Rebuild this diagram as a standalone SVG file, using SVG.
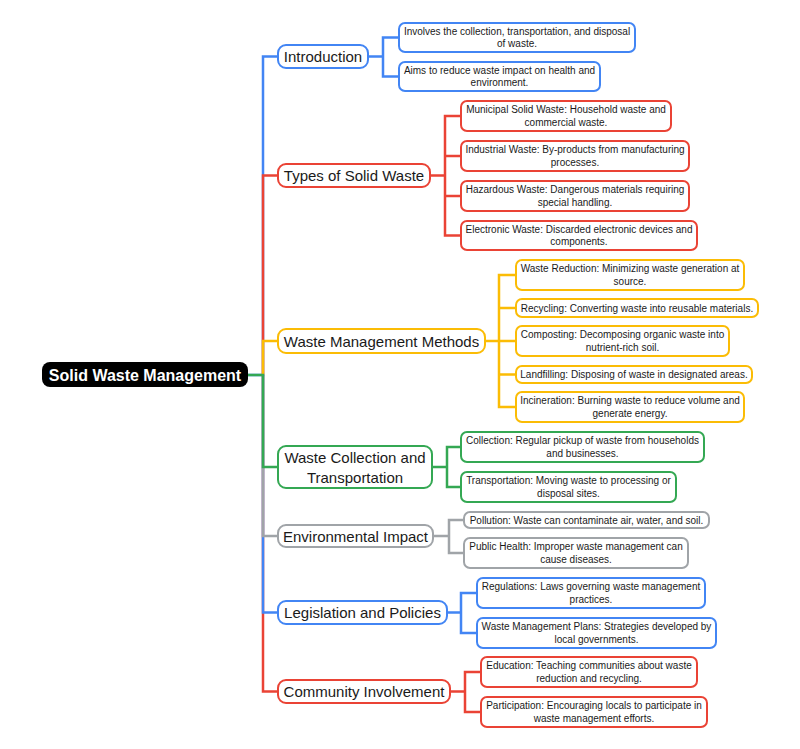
<svg xmlns="http://www.w3.org/2000/svg" width="800" height="749" viewBox="0 0 800 749">
<style>
text{font-family:"Liberation Sans",Arial,sans-serif;fill:#1a1a1a;text-anchor:middle;dominant-baseline:central}
.root text{fill:#fff;font-weight:bold;font-size:16px}
.n1 rect{fill:#fff;stroke-width:2}
.n1 text{font-size:15px}
.n2 rect{fill:#fff;stroke-width:2}
.n2 text{font-size:10px}
.b rect{stroke:#4285F4}.r rect{stroke:#EA4335}.y rect{stroke:#FBBC05}.g rect{stroke:#34A853}.s rect{stroke:#A0A4A8}
#connectors path{fill:none;stroke-width:2.5}
.cb{stroke:#4285F4}.cr{stroke:#EA4335}.cy{stroke:#FBBC05}.cg{stroke:#34A853}.cs{stroke:#A0A4A8}
</style>
<rect width="800" height="749" fill="#fff"/>
<g id="connectors">
<path class="cb" d="M248 375H263V56.5H278"/>
<path class="cr" d="M263 375V175.5H278"/>
<path class="cy" d="M263 375V341H278"/>
<path class="cr" d="M263 375V691.5H278"/>
<path class="cb" d="M263 375V612.5H278"/>
<path class="cs" d="M263 375V536H278"/>
<path class="cg" d="M248 375H263V467H278"/>
<path class="cb" d="M368 56.5H383V37.5H399M383 56.5V76.5H399"/>
<path class="cr" d="M430 175.5H445V116H461M445 175.5V156H461M445 175.5V196H461M445 175.5V235.5H461"/>
<path class="cy" d="M485 341H499V275H516M499 341V308H516M499 341H516M499 341V374.5H516M499 341V407H516"/>
<path class="cg" d="M432 467H447V447H461M447 467V487H461"/>
<path class="cs" d="M433 536H449V520H464M449 536V553H464"/>
<path class="cb" d="M447 612.5H461V593H477M461 612.5V633H477"/>
<path class="cr" d="M450 691.5H465V672H481M465 691.5V712H481"/>
</g>
<g id="root" class="root"><rect x="42" y="362" width="206" height="25" rx="8" fill="#000"/><text x="145" y="375">Solid Waste Management</text></g>

<g id="introduction" class="n1 b"><rect x="278" y="45" width="90" height="23" rx="8"/><text x="323" y="56.5">Introduction</text></g>
<g id="types" class="n1 r"><rect x="278" y="164" width="152" height="23" rx="8"/><text x="354" y="175.5">Types of Solid Waste</text></g>
<g id="methods" class="n1 y"><rect x="278" y="329" width="207" height="24" rx="8"/><text x="381.5" y="341">Waste Management Methods</text></g>
<g id="collection" class="n1 g"><rect x="278" y="446" width="154" height="42" rx="8"/><text x="355" y="457">Waste Collection and</text><text x="355" y="477">Transportation</text></g>
<g id="environment" class="n1 s"><rect x="278" y="525" width="155" height="22" rx="8"/><text x="355.5" y="536">Environmental Impact</text></g>
<g id="legislation" class="n1 b"><rect x="278" y="601" width="169" height="23" rx="8"/><text x="362.5" y="612.5">Legislation and Policies</text></g>
<g id="community" class="n1 r"><rect x="278" y="680" width="172" height="23" rx="8"/><text x="364" y="691.5">Community Involvement</text></g>

<g id="intro-1" class="n2 b"><rect x="399" y="23" width="236" height="29" rx="6"/><text x="517" y="31.2">Involves the collection, transportation, and disposal</text><text x="517" y="43.7">of waste.</text></g>
<g id="intro-2" class="n2 b"><rect x="399" y="62" width="201" height="29" rx="6"/><text x="499.5" y="70.2">Aims to reduce waste impact on health and</text><text x="499.5" y="82.7">environment.</text></g>

<g id="types-1" class="n2 r"><rect x="461" y="101" width="210" height="30" rx="6"/><text x="566" y="109.7">Municipal Solid Waste: Household waste and</text><text x="566" y="122.2">commercial waste.</text></g>
<g id="types-2" class="n2 r"><rect x="461" y="141" width="228" height="30" rx="6"/><text x="575" y="149.7">Industrial Waste: By-products from manufacturing</text><text x="575" y="162.2">processes.</text></g>
<g id="types-3" class="n2 r"><rect x="461" y="181" width="228" height="30" rx="6"/><text x="575" y="189.7">Hazardous Waste: Dangerous materials requiring</text><text x="575" y="202.2">special handling.</text></g>
<g id="types-4" class="n2 r"><rect x="461" y="221" width="236" height="29" rx="6"/><text x="579" y="229.2">Electronic Waste: Discarded electronic devices and</text><text x="579" y="241.7">components.</text></g>

<g id="methods-1" class="n2 y"><rect x="516" y="260" width="228" height="30" rx="6"/><text x="630" y="268.7">Waste Reduction: Minimizing waste generation at</text><text x="630" y="281.2">source.</text></g>
<g id="methods-2" class="n2 y"><rect x="516" y="299" width="242" height="18" rx="6"/><text x="637" y="308">Recycling: Converting waste into reusable materials.</text></g>
<g id="methods-3" class="n2 y"><rect x="516" y="326" width="213" height="30" rx="6"/><text x="622.5" y="334.7">Composting: Decomposing organic waste into</text><text x="622.5" y="347.2">nutrient-rich soil.</text></g>
<g id="methods-4" class="n2 y"><rect x="516" y="366" width="236" height="17" rx="6"/><text x="634" y="374.5">Landfilling: Disposing of waste in designated areas.</text></g>
<g id="methods-5" class="n2 y"><rect x="516" y="392" width="228" height="30" rx="6"/><text x="630" y="400.7">Incineration: Burning waste to reduce volume and</text><text x="630" y="413.2">generate energy.</text></g>

<g id="collection-1" class="n2 g"><rect x="461" y="432" width="243" height="30" rx="6"/><text x="582.5" y="440.7">Collection: Regular pickup of waste from households</text><text x="582.5" y="453.2">and businesses.</text></g>
<g id="collection-2" class="n2 g"><rect x="461" y="472" width="215" height="30" rx="6"/><text x="568.5" y="480.7">Transportation: Moving waste to processing or</text><text x="568.5" y="493.2">disposal sites.</text></g>

<g id="environment-1" class="n2 s"><rect x="464" y="512" width="245" height="16" rx="6"/><text x="586.5" y="520">Pollution: Waste can contaminate air, water, and soil.</text></g>
<g id="environment-2" class="n2 s"><rect x="464" y="538" width="224" height="30" rx="6"/><text x="576" y="546.7">Public Health: Improper waste management can</text><text x="576" y="559.2">cause diseases.</text></g>

<g id="legislation-1" class="n2 b"><rect x="477" y="578" width="228" height="30" rx="6"/><text x="591" y="586.7">Regulations: Laws governing waste management</text><text x="591" y="599.2">practices.</text></g>
<g id="legislation-2" class="n2 b"><rect x="477" y="618" width="239" height="30" rx="6"/><text x="596.5" y="626.7">Waste Management Plans: Strategies developed by</text><text x="596.5" y="639.2">local governments.</text></g>

<g id="community-1" class="n2 r"><rect x="481" y="657" width="216" height="30" rx="6"/><text x="589" y="665.7">Education: Teaching communities about waste</text><text x="589" y="678.2">reduction and recycling.</text></g>
<g id="community-2" class="n2 r"><rect x="481" y="697" width="226" height="30" rx="6"/><text x="594" y="705.7">Participation: Encouraging locals to participate in</text><text x="594" y="718.2">waste management efforts.</text></g>
</svg>
